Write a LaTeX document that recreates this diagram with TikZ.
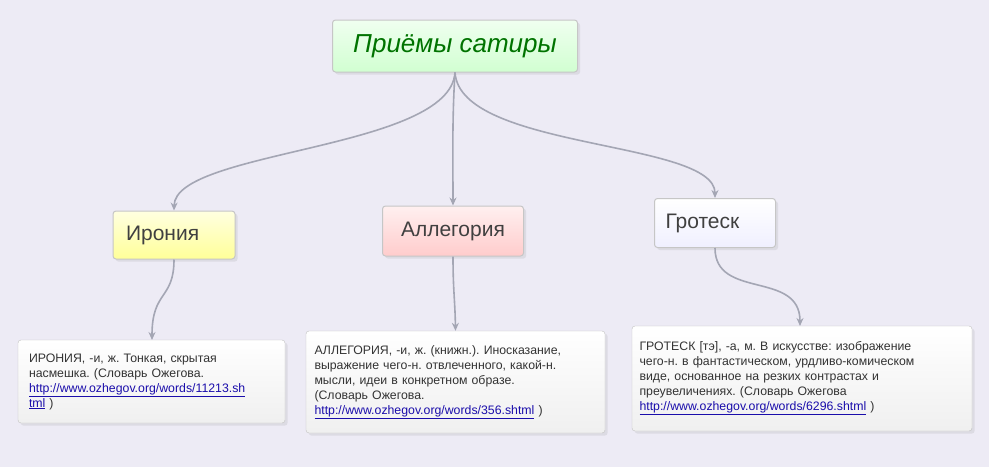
\documentclass[tikz,border=0pt]{standalone}
\usepackage{fontspec}
\setmainfont{Liberation Sans}
\frenchspacing
\usetikzlibrary{arrows.meta,shadows}
\definecolor{bg}{HTML}{EDEBF5}
\definecolor{conn}{HTML}{A4A6B4}
\definecolor{link}{HTML}{1A0DAB}
\newcommand{\lnk}[1]{\textcolor{link}{\underline{#1}}}
\tikzset{
 topic/.style={draw=gray!45, rounded corners=3pt, line width=1pt, drop shadow={opacity=0.15}},
 note/.style={draw=gray!50, rounded corners=3pt, fill=white, top color=white, bottom color=gray!12, drop shadow={opacity=0.15}, align=left, font=\fontsize{12.3}{15}\selectfont, text=black!80, inner sep=0pt},
 conn/.style={draw=conn, line width=1.6pt, -{Stealth[length=8pt,width=7pt]}}
}
\begin{document}
\begin{tikzpicture}[x=1pt,y=-1pt]
\fill[bg] (0,0) rectangle (989,467);
\useasboundingbox (0,0) rectangle (989,467);
\node[topic, top color=green!6!white, bottom color=green!18!white, minimum width=245, minimum height=52, font=\itshape\fontsize{26}{30}\selectfont, text=green!45!black] (t) at (455,46) {Приёмы сатиры};
\node[topic, top color=yellow!12!white, bottom color=yellow!40!white, minimum width=122, minimum height=48, text width=102, align=left, font=\fontsize{21}{24}\selectfont, text=black!75] (a) at (174,235) {\hspace*{3pt}Ирония};
\node[topic, top color=red!6!white, bottom color=red!20!white, minimum width=141, minimum height=50, font=\fontsize{21}{24}\selectfont, text=black!75] (b) at (453,231) {Аллегория};
\node[topic, top color=white, bottom color=blue!6!white, minimum width=121, minimum height=49, text width=101, align=left, font=\fontsize{21}{24}\selectfont, text=black!75] (c) at (715,223) {\hspace*{1pt}Гротеск};
\node[note, minimum width=267, minimum height=83, text width=245] (na) at (151.5,381.5) {ИРОНИЯ, -и, ж. Тонкая, скрытая\\насмешка. (Словарь Ожегова.\\\lnk{http://www.ozhegov.org/words/11213.sh}\\\lnk{tml} )};
\node[note, minimum width=299, minimum height=102, text width=282] (nb) at (455.5,382) {АЛЛЕГОРИЯ, -и, ж. (книжн.). Иносказание,\\выражение чего-н. отвлеченного, какой-н.\\мысли, идеи в конкретном образе.\\(Словарь Ожегова.\\\lnk{http://www.ozhegov.org/words/356.shtml} )};
\node[note, minimum width=340, minimum height=105, text width=325] (nc) at (802,378.5) {ГРОТЕСК [тэ], -а, м. В искусстве: изображение\\чего-н. в фантастическом, урдливо-комическом\\виде, основанное на резких контрастах и\\преувеличениях. (Словарь Ожегова\\\lnk{http://www.ozhegov.org/words/6296.shtml} )};
\draw[conn] (t.south) .. controls (450,150) and (175,150) .. (a.north);
\draw[conn] (t.south) .. controls (452,120) and (453,160) .. (b.north);
\draw[conn] (t.south) .. controls (460,150) and (715,140) .. (c.north);
\draw[conn] (a.south) .. controls (174,300) and (152,290) .. (152,340);
\draw[conn] (b.south) .. controls (453,290) and (455,300) .. (nb.north);
\draw[conn] (c.south) .. controls (715,300) and (800,270) .. (800,326);
\end{tikzpicture}
\end{document}
